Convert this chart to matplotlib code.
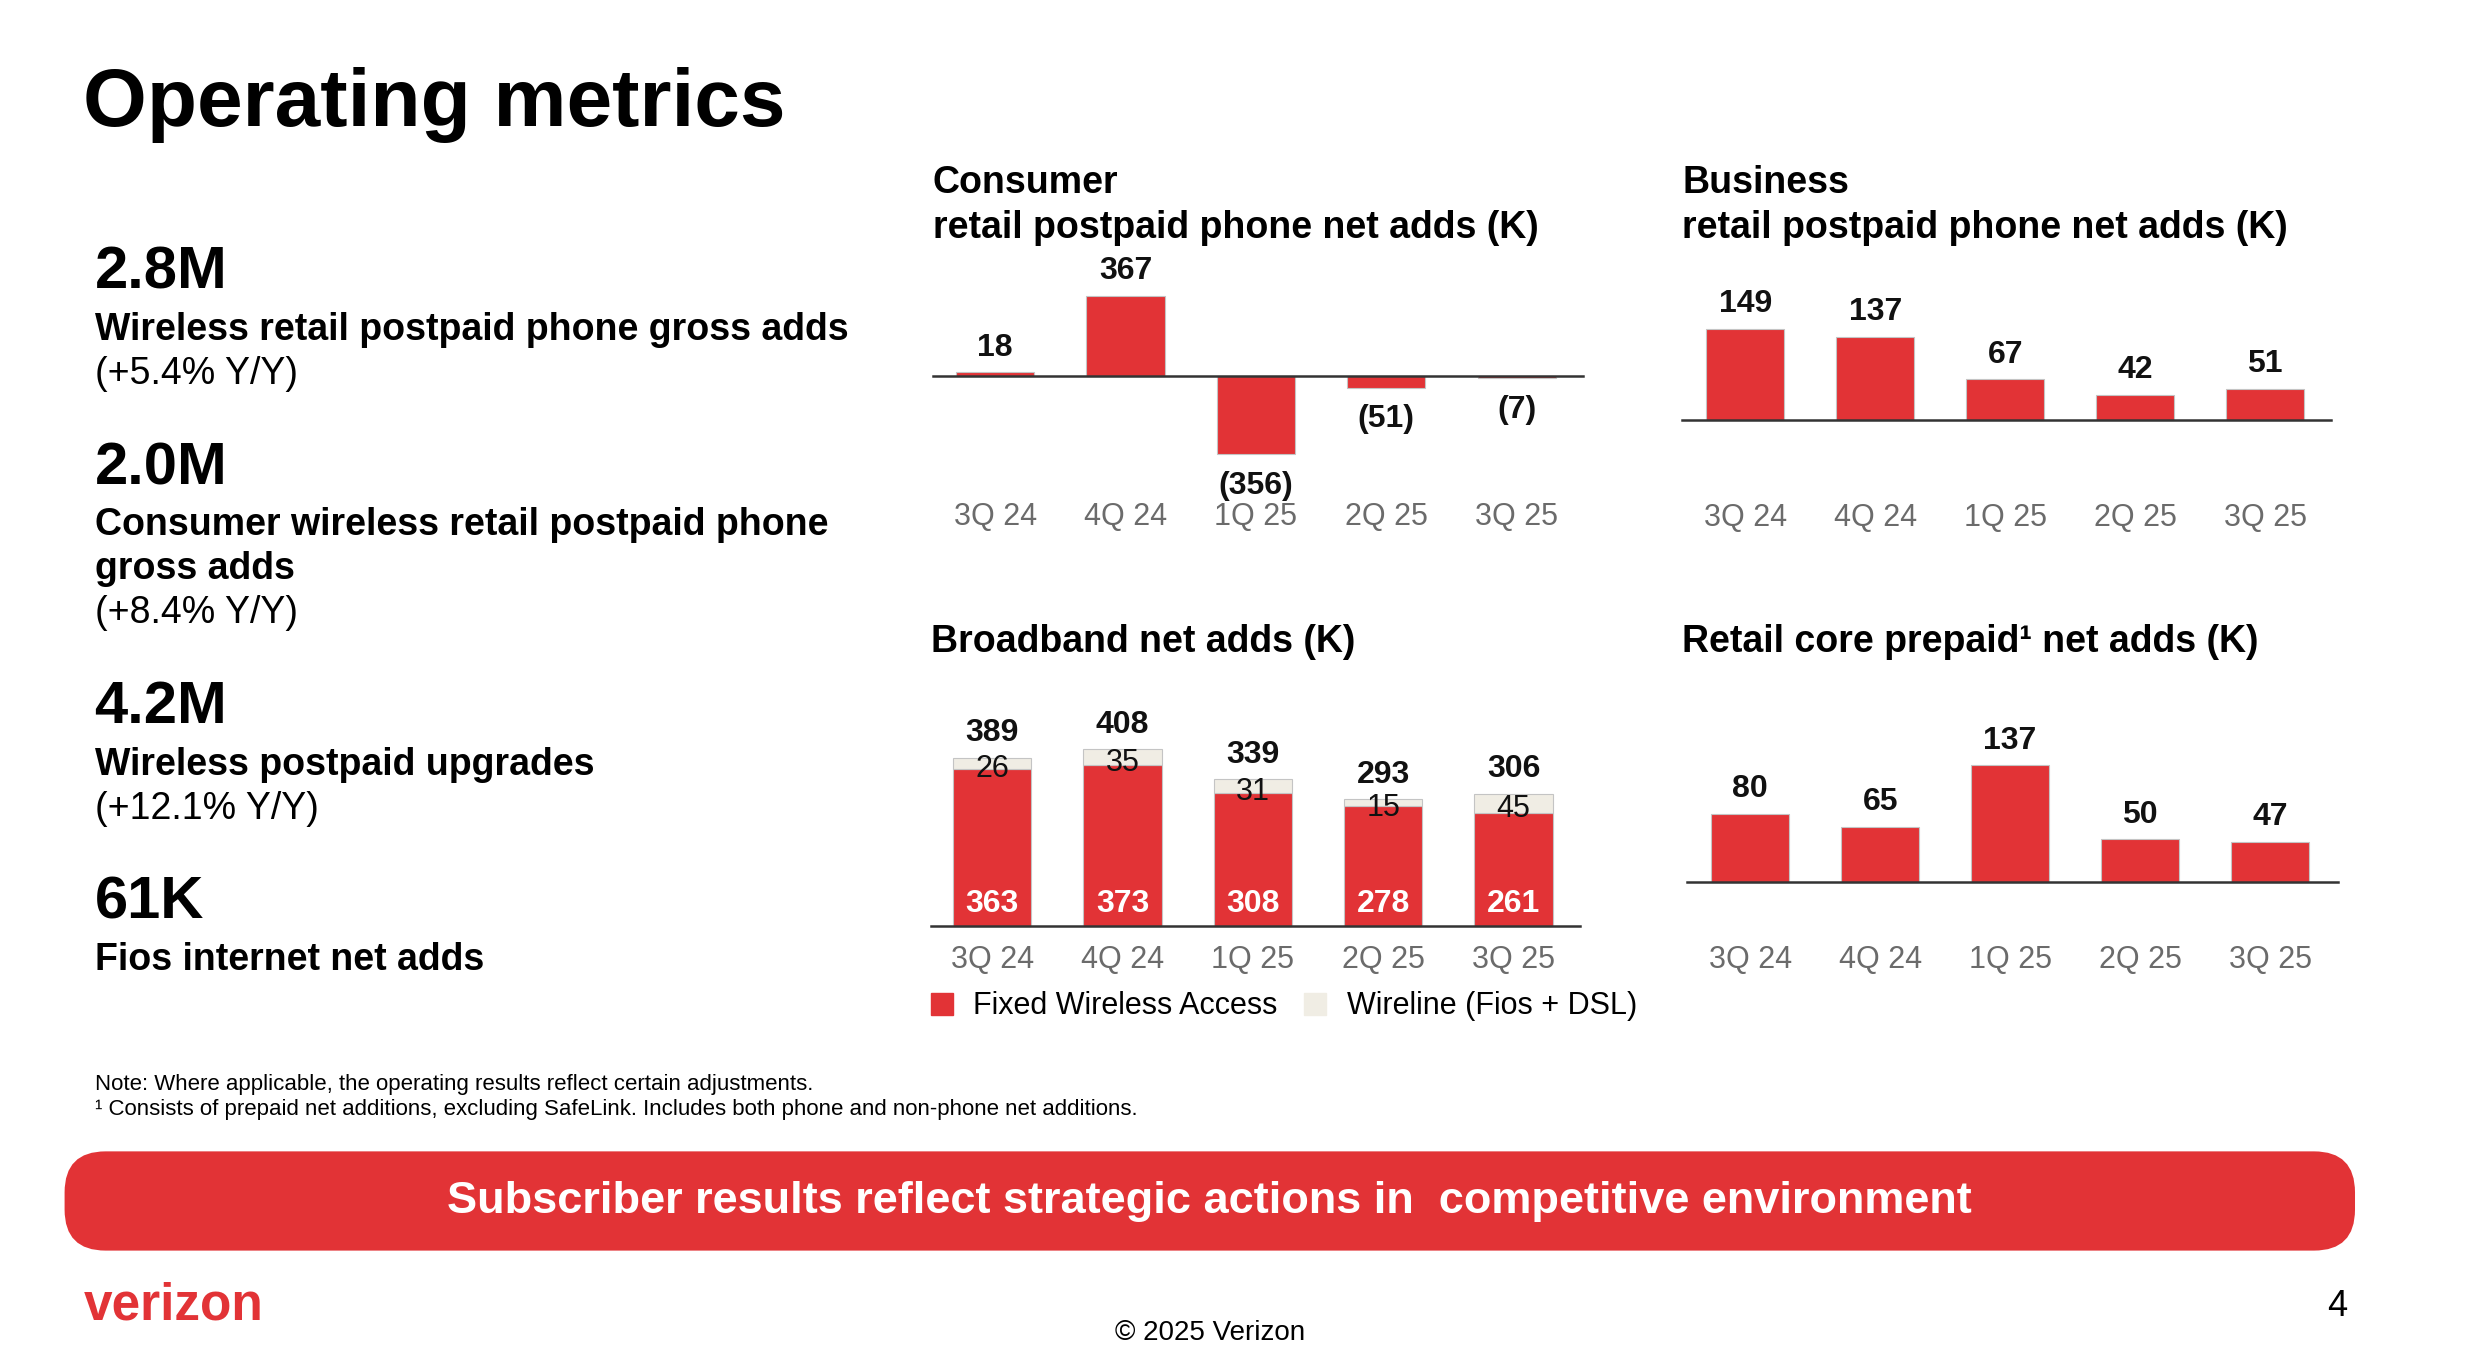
import matplotlib.pyplot as plt
from matplotlib.patches import FancyBboxPatch, Patch

plt.rcParams['font.family'] = ['Liberation Sans', 'DejaVu Sans']

# Data
quarters = ['3Q 24', '4Q 24', '1Q 25', '2Q 25', '3Q 25']
consumer_net_adds = [18, 367, -356, -51, -7]
business_net_adds = [149, 137, 67, 42, 51]
fwa_net_adds = [363, 373, 308, 278, 261]
wireline_net_adds = [26, 35, 31, 15, 45]
broadband_total = [389, 408, 339, 293, 306]
prepaid_net_adds = [80, 65, 137, 50, 47]

metric_values = ['2.8M', '2.0M', '4.2M', '61K']
metric_labels = [['Wireless retail postpaid phone gross adds'],
                 ['Consumer wireless retail postpaid phone', 'gross adds'],
                 ['Wireless postpaid upgrades'],
                 ['Fios internet net adds']]
metric_changes = ['(+5.4% Y/Y)', '(+8.4% Y/Y)', '(+12.1% Y/Y)', '']

RED = '#E23336'
CREAM = '#F0EDE4'
GRAY = '#6b6b6b'
W, H = 1568, 866  # layout grid (scaled reference pixels)

fig = plt.figure(figsize=(24.7, 13.64), dpi=100)

# background axes for slide text, coords in layout pixels
bg = fig.add_axes([0, 0, 1, 1])
bg.set_xlim(0, W)
bg.set_ylim(H, 0)
bg.axis('off')


def label(x, y, s, **kw):
    # va='center' centres on the full line box, nudge down to match the visual centre
    bg.text(x, y + 2.5, s, va='center', **kw)


bg.text(53, 80, 'Operating metrics', fontsize=59, fontweight='bold', va='baseline')

# left column metrics
y = 171
for value, lines, change in zip(metric_values, metric_labels, metric_changes):
    label(60, y, value, fontsize=43, fontweight='bold')
    ly = y + 36
    for line in lines:
        label(60, ly, line, fontsize=27, fontweight='bold')
        ly += 28
    if change:
        label(60, ly, change, fontsize=27)
    y = ly + 60 if change else ly


def chart_axes(left, right, top, bottom):
    return fig.add_axes([left / W, 1 - bottom / H, (right - left) / W, (bottom - top) / H])


def style(ax, xlim, ylim, pad):
    ax.set_xlim(xlim)
    ax.set_ylim(ylim)
    ax.patch.set_visible(False)
    for s in ['top', 'right', 'left']:
        ax.spines[s].set_visible(False)
    ax.spines['bottom'].set_position(('data', 0))
    ax.spines['bottom'].set_color('#333333')
    ax.spines['bottom'].set_linewidth(1.8)
    ax.set_yticks([])
    ax.set_xticks(range(len(quarters)))
    ax.set_xticklabels(quarters, fontsize=22, color=GRAY)
    ax.tick_params(axis='x', length=0, pad=pad)


def paren(v):
    return f'({abs(v)})' if v < 0 else str(v)


x = range(len(quarters))
bar_kw = dict(width=0.6, color=RED, edgecolor='#c4c4c4', linewidth=0.8)
val_kw = dict(fontsize=23, fontweight='bold', color='#111111')

# Consumer
label(592, 114, 'Consumer', fontsize=27, fontweight='bold')
label(592, 142, 'retail postpaid phone net adds (K)', fontsize=27, fontweight='bold')
ax1 = chart_axes(592, 1005, 160, 300)
style(ax1, (-0.48, 4.51), (-439, 568), 90.5)
b = ax1.bar(x, consumer_net_adds, **bar_kw)
ax1.bar_label(b, labels=[paren(v) if v >= 0 else '' for v in consumer_net_adds], padding=7, **val_kw)
ax1.bar_label(b, labels=[paren(v) if v < 0 else '' for v in consumer_net_adds], padding=12, **val_kw)

# Business
label(1068, 114, 'Business', fontsize=27, fontweight='bold')
label(1068, 142, 'retail postpaid phone net adds (K)', fontsize=27, fontweight='bold')
ax2 = chart_axes(1068, 1480, 160, 300)
style(ax2, (-0.485, 4.51), (-85, 275), 59.5)
b = ax2.bar(x, business_net_adds, **bar_kw)
ax2.bar_label(b, padding=7, **val_kw)

# Broadband
label(591, 405, 'Broadband net adds (K)', fontsize=27, fontweight='bold')
ax3 = chart_axes(591, 1003, 440, 595)
style(ax3, (-0.47, 4.51), (-25, 538), 13.5)
b_fwa = ax3.bar(x, fwa_net_adds, **bar_kw)
b_wl = ax3.bar(x, wireline_net_adds, bottom=fwa_net_adds, width=0.6, color=CREAM,
               edgecolor='#c4c4c4', linewidth=0.8)
ax3.bar_label(b_wl, labels=[str(v) for v in broadband_total], padding=7, **val_kw)
for i, (f, w) in enumerate(zip(fwa_net_adds, wireline_net_adds)):
    ax3.annotate(str(w), (i, f + w / 2), xytext=(0, -4), textcoords='offset points',
                 ha='center', va='center', fontsize=22, color='#111111')
    ax3.annotate(str(f), (i, 0), xytext=(0, 16), textcoords='offset points',
                 ha='center', va='center', fontsize=23, fontweight='bold', color='white')
fig.legend([Patch(color=RED), Patch(color=CREAM)],
           ['Fixed Wireless Access', 'Wireline (Fios + DSL)'],
           loc='center left', bbox_to_anchor=(591 / W, 1 - 639 / H), ncol=2,
           frameon=False, fontsize=22, handlelength=0.72, handleheight=0.72,
           handletextpad=0.67, columnspacing=0.87, borderpad=0, borderaxespad=0)

# Retail core prepaid
label(1068, 405, 'Retail core prepaid\u00b9 net adds (K)', fontsize=27, fontweight='bold')
ax4 = chart_axes(1071, 1484, 440, 580)
style(ax4, (-0.485, 4.52), (-37, 222), 45.5)
b = ax4.bar(x, prepaid_net_adds, **bar_kw)
ax4.bar_label(b, padding=7, **val_kw)

# footnotes
label(60, 686, 'Note: Where applicable, the operating results reflect certain adjustments.', fontsize=16)
label(60, 702, '\u00b9 Consists of prepaid net additions, excluding SafeLink. Includes both phone and non-phone net additions.',
      fontsize=16)

# banner
bg.add_patch(FancyBboxPatch((41, 731), 1454, 63, boxstyle='round,pad=0,rounding_size=26',
                            facecolor=RED, edgecolor='none'))
bg.text(768, 763, 'Subscriber results reflect strategic actions in  competitive environment',
        fontsize=32.5, fontweight='bold', color='white', ha='center', va='center')

# footer
bg.text(53, 838, 'verizon', fontsize=37, fontweight='bold', color=RED, va='baseline')
label(768, 844, '\u00a9 2025 Verizon', fontsize=20, ha='center')
label(1484, 827, '4', fontsize=26, ha='center')

fig.savefig('out.png', dpi=100)
